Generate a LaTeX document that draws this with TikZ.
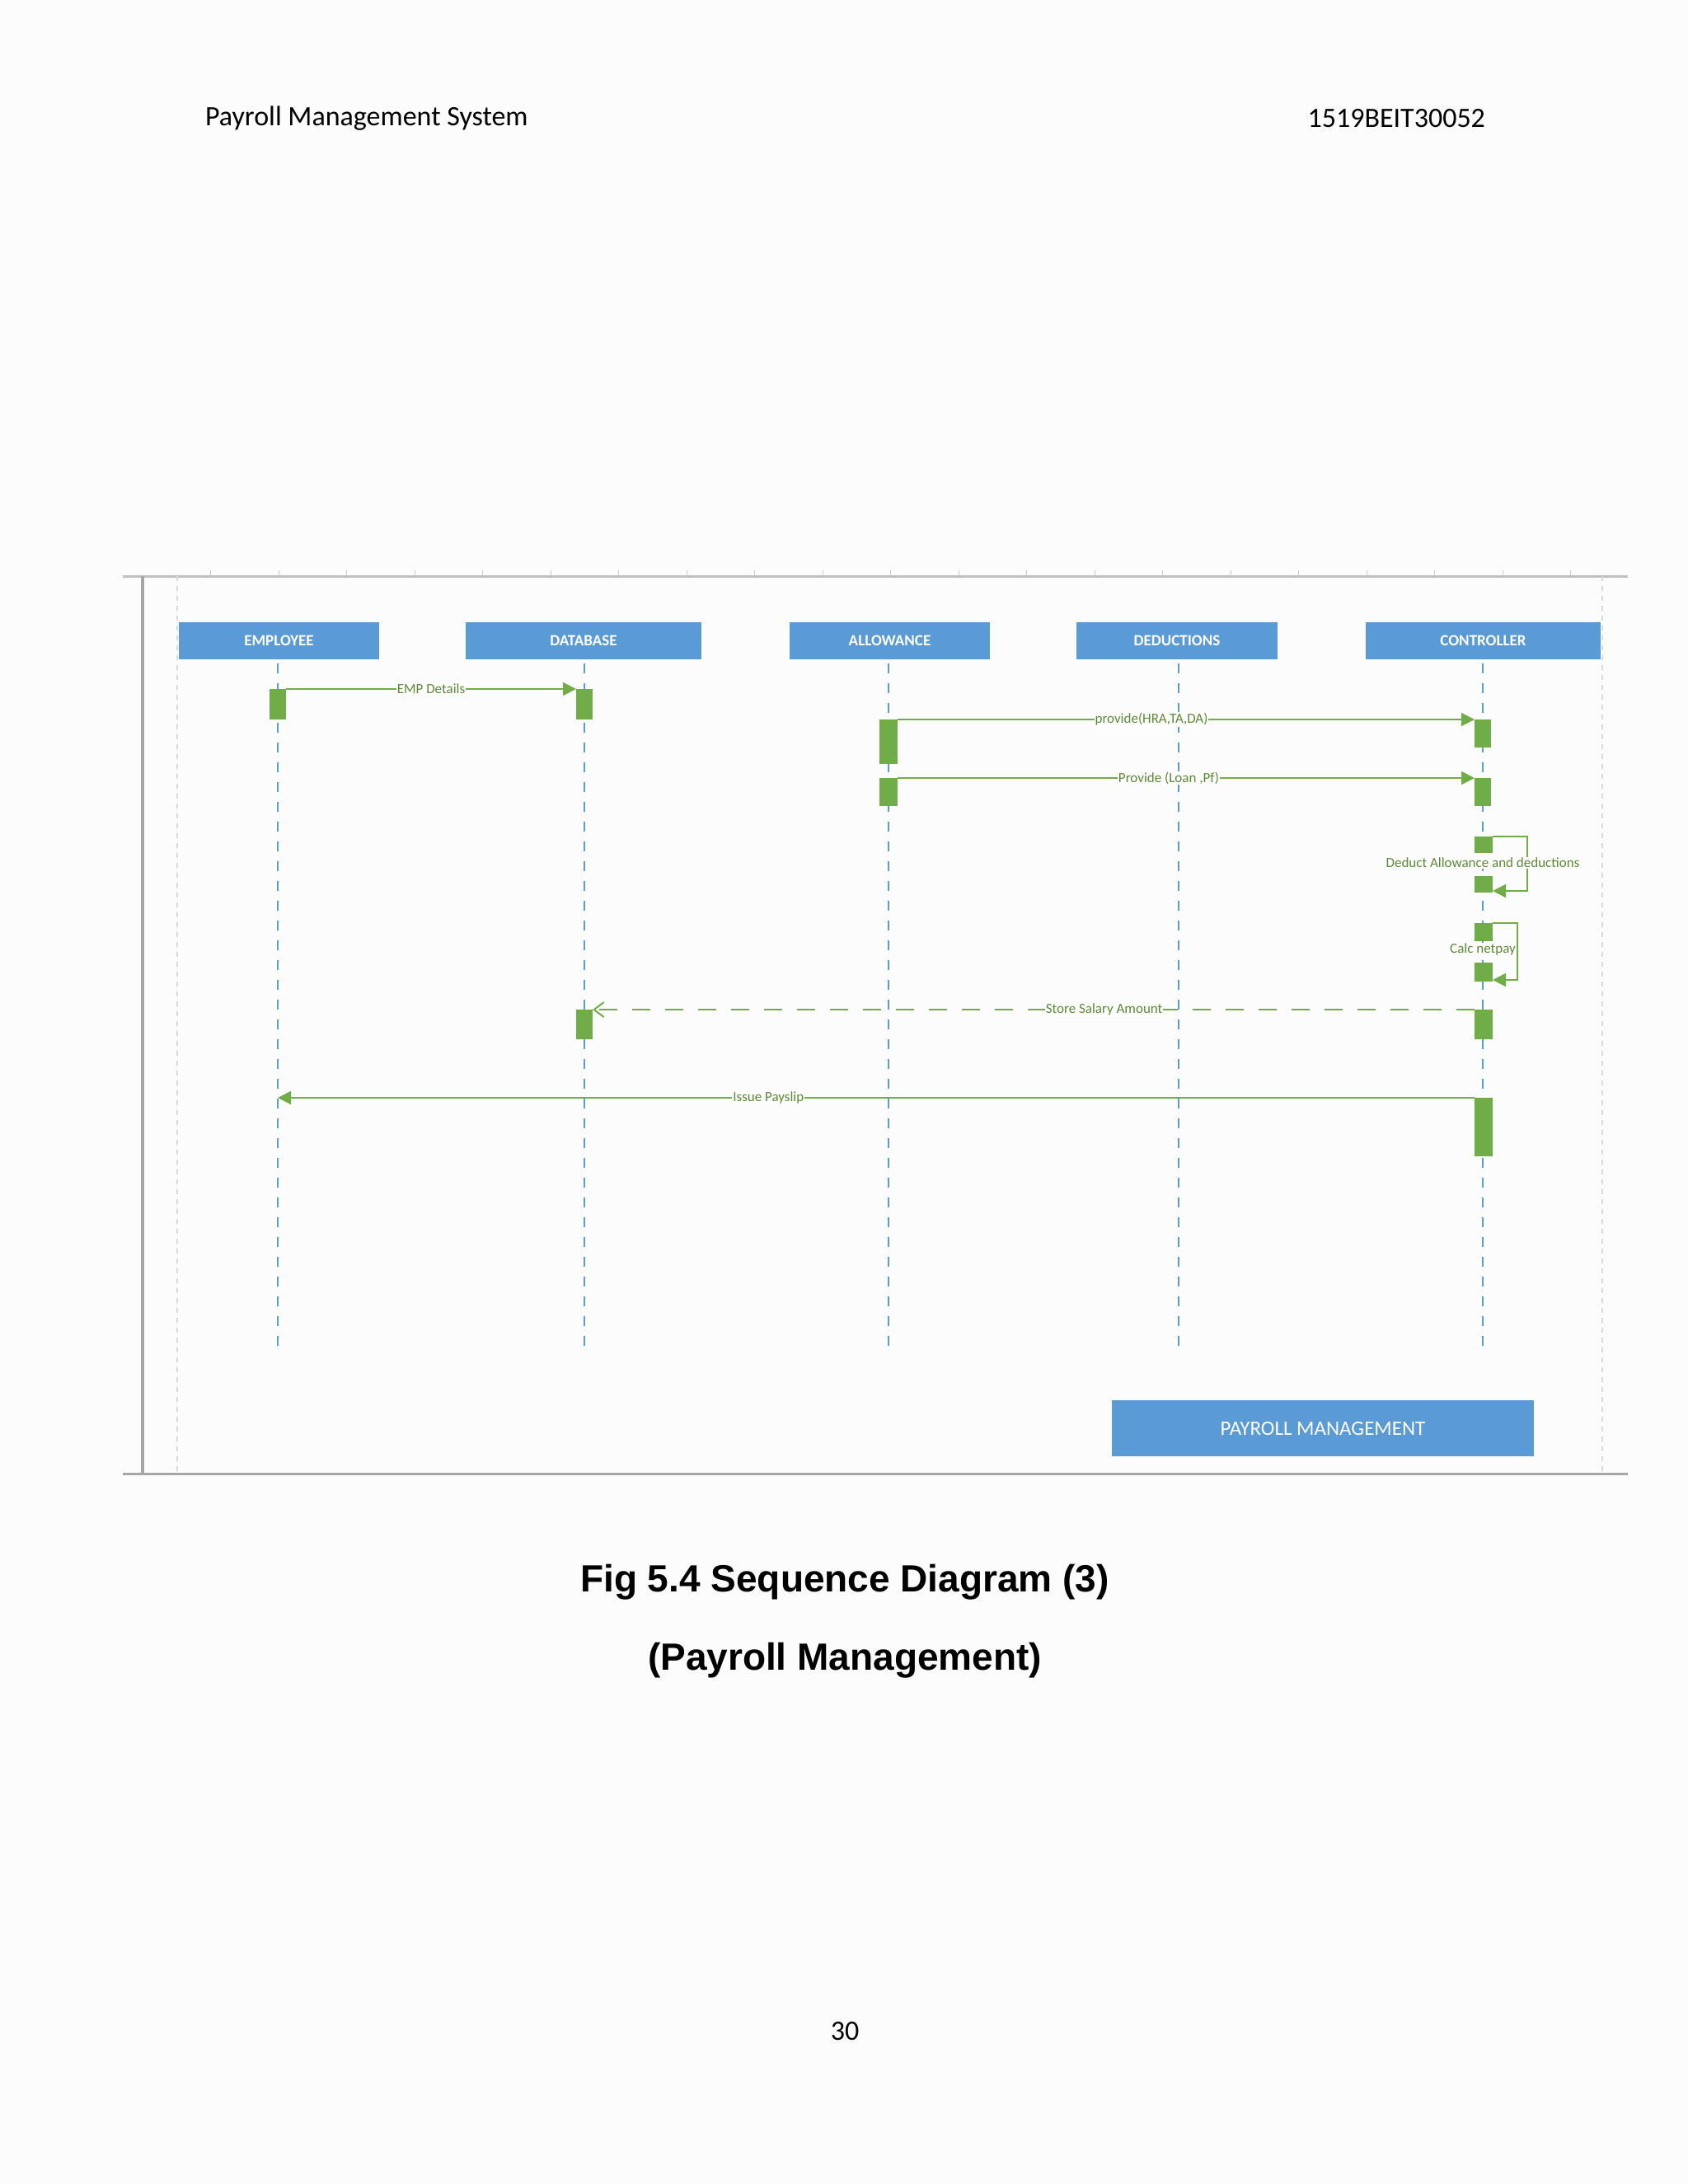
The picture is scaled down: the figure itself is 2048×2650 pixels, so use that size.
\documentclass[tikz,border=0pt]{standalone}
\usepackage{fontspec}
\setmainfont{Carlito}
\newfontfamily\arialf{Liberation Sans}
\usetikzlibrary{arrows.meta}
\definecolor{bl}{HTML}{5B9BD5}
\definecolor{gr}{HTML}{70AD47}
\definecolor{gt}{HTML}{5A8A32}
\tikzset{
 head/.style={fill=bl,text=white,font=\bfseries\fontsize{9.5}{11}\selectfont,minimum height=22.5pt,inner sep=0pt},
 life/.style={bl,dash pattern=on 6pt off 6pt,line width=1pt},
 act/.style={fill=gr,draw=none},
 msg/.style={gr,line width=1pt},
 lbl/.style={font=\fontsize{8.5}{10}\selectfont,text=gt,fill=white,inner sep=0.5pt},
}
\begin{document}
\begin{tikzpicture}[x=0.5pt,y=-0.5pt]
\useasboundingbox (0,0) rectangle (2048,2650);
\fill[white!98!gray] (0,0) rectangle (2048,2650);
\node[anchor=west,font=\fontsize{17}{20}\selectfont] (h1) at (242,144) {Payroll Management System};
\node[anchor=east,font=\fontsize{17}{20}\selectfont] (h2) at (1809,144) {1519BEIT30052};
% frame
\draw[gray!50,line width=1.5pt] (149,699) -- (1975,699);
\draw[gray!70,line width=1.5pt] (149,1788) -- (1975,1788);
\draw[gray!70,line width=2pt] (173,699) -- (173,1788);
\draw[gray!30,dashed,line width=1pt] (215,699) -- (215,1788);
\draw[gray!30,dashed,line width=1pt] (1944,699) -- (1944,1788);
\foreach \x in {255,338,420,503,585,668,750,833,915,998,1080,1163,1245,1328,1410,1493,1575,1658,1740,1823,1905}
  \draw[gray!40] (\x,692) -- (\x,699);
% heads
\node[head,minimum width=121.5pt] (emp) at (338.5,777.5) {EMPLOYEE};
\node[head,minimum width=143pt] (db) at (708,777.5) {DATABASE};
\node[head,minimum width=121.5pt] (al) at (1079.5,777.5) {ALLOWANCE};
\node[head,minimum width=122pt] (de) at (1428,777.5) {DEDUCTIONS};
\node[head,minimum width=142.5pt] (co) at (1799.5,777.5) {CONTROLLER};
\coordinate (eE) at (337,1641); \coordinate (dE) at (709,1633);
\coordinate (aE) at (1078,1633); \coordinate (deE) at (1430,1633); \coordinate (cE) at (1799,1633);
\draw[life] (337,805) -- (eE);
\draw[life] (709,805) -- (dE);
\draw[life] (1078,805) -- (aE);
\draw[life] (1430,805) -- (deE);
\draw[life] (1799,805) -- (cE);
% activations
\fill[act] (327,836) rectangle (347,873);
\fill[act] (699,836) rectangle (719,873);
\fill[act] (1067,873) rectangle (1089,927);
\fill[act] (1789,873) rectangle (1809,907);
\fill[act] (1067,944) rectangle (1089,978);
\fill[act] (1789,944) rectangle (1809,978);
\fill[act] (1789,1015) rectangle (1811,1035);
\fill[act] (1789,1063) rectangle (1811,1083);
\fill[act] (1789,1120) rectangle (1811,1142);
\fill[act] (1789,1168) rectangle (1811,1191);
\fill[act] (699,1225) rectangle (719,1261);
\fill[act] (1789,1225) rectangle (1811,1261);
\fill[act] (1789,1332) rectangle (1811,1403);
% messages
\coordinate (m1a) at (347,836); \coordinate (m1b) at (699,836);
\draw[msg,-{Triangle[length=8pt,width=8pt]}] (m1a) -- node[lbl]{EMP Details} (m1b);
\coordinate (m2a) at (1089,873); \coordinate (m2b) at (1789,873);
\draw[msg,-{Triangle[length=8pt,width=8pt]}] (m2a) -- node[lbl,pos=0.44]{provide(HRA,TA,DA)} (m2b);
\coordinate (m3a) at (1089,944); \coordinate (m3b) at (1789,944);
\draw[msg,-{Triangle[length=8pt,width=8pt]}] (m3a) -- node[lbl,pos=0.47]{Provide (Loan ,Pf)} (m3b);
\coordinate (s1a) at (1811,1015); \coordinate (s1b) at (1811,1081);
\draw[msg,-{Triangle[length=8pt,width=8pt]}] (s1a) -- (1853,1015) -- (1853,1081) -- (s1b);
\node[lbl] (s1l) at (1799,1047) {Deduct Allowance and deductions};
\coordinate (s2a) at (1811,1120); \coordinate (s2b) at (1811,1189);
\draw[msg,-{Triangle[length=8pt,width=8pt]}] (s2a) -- (1841,1120) -- (1841,1189) -- (s2b);
\node[lbl] (s2l) at (1799,1152) {Calc netpay};
\coordinate (m4a) at (1789,1225); \coordinate (m4b) at (719,1225);
\draw[msg,dash pattern=on 11pt off 9pt,-{Straight Barb[length=6pt,width=9pt]}] (m4a) -- node[lbl,pos=0.42]{Store Salary Amount} (m4b);
\coordinate (m5a) at (1789,1332); \coordinate (m5b) at (337,1332);
\draw[msg,-{Triangle[length=8pt,width=8pt]}] (m5a) -- node[lbl,pos=0.59]{Issue Payslip} (m5b);
\node[fill=bl,text=white,font=\fontsize{12.5}{14}\selectfont,minimum width=256pt,minimum height=34pt,inner sep=0pt] (pm) at (1605,1733) {PAYROLL MANAGEMENT};
\node[font=\arialf\bfseries\fontsize{23}{26}\selectfont] (c1) at (1025,1920) {Fig 5.4 Sequence Diagram (3)};
\node[font=\arialf\bfseries\fontsize{23}{26}\selectfont] (c2) at (1025,2015) {(Payroll Management)};
\node[font=\fontsize{17}{20}\selectfont] (pg) at (1025,2465) {30};
\end{tikzpicture}
\end{document}
